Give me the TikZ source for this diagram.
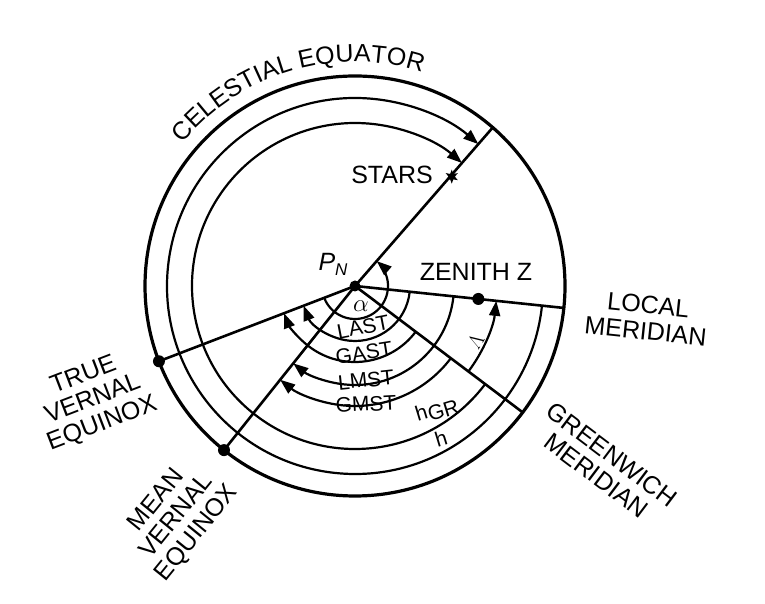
\documentclass[tikz,border=0pt]{standalone}
\usepackage{fontspec}
\setmainfont{Liberation Sans}
\usetikzlibrary{calc,arrows.meta,decorations.text,shapes.geometric}
\begin{document}
\begin{tikzpicture}[x=1pt,y=1pt,
  ln/.style={line width=2.6pt},
  arc/.style={line width=2.2pt,-{Triangle[length=15pt,width=11pt]}},
  dot/.style={circle,fill=black,inner sep=0pt,minimum size=12pt},
  big/.style={font=\fontsize{25}{26}\selectfont,align=center,inner sep=0pt},
  small/.style={font=\fontsize{21}{21}\selectfont,inner sep=0pt}]
\useasboundingbox (0,0) rectangle (765,604);
\coordinate (C) at (355,318);
\def\R{210}
\draw[line width=3.2pt] (C) circle[radius=\R];
\coordinate (S) at ($(C)+(49:\R)$);
\coordinate (L) at ($(C)+(-6:\R)$);
\coordinate (G) at ($(C)+(-37:\R)$);
\node[dot] (T) at ($(C)+(201:\R)$) {};
\node[dot] (M) at ($(C)+(231.4:\R)$) {};
\node[dot] (Z) at ($(C)+(-6:124)$) {};
\node[dot,minimum size=11pt] (P) at (C) {};
\draw[ln] (P.center) -- (S);
\draw[ln] (P.center) -- (L);
\draw[ln] (P.center) -- (G);
\draw[ln] (P.center) -- (T.center);
\draw[ln] (P.center) -- (M.center);
\node[star,star points=6,star point ratio=2.2,fill=black,inner sep=0pt,minimum size=14pt] (st) at ($(C)+(48.5:146)$) {};
\draw[arc] ($(C)+(-6:188)$) arc[start angle=-6,end angle=-311,radius=188];
\draw[arc] ($(C)+(-37:163)$) arc[start angle=-37,end angle=-311,radius=163];
\draw[arc] ($(C)+(-37:142)$) arc[start angle=-37,end angle=-6,radius=142];
\draw[arc] ($(C)+(-37:120)$) arc[start angle=-37,end angle=-128.6,radius=120];
\draw[arc] ($(C)+(-6:99)$) arc[start angle=-6,end angle=-128.6,radius=99];
\draw[arc] ($(C)+(-37:76)$) arc[start angle=-37,end angle=-159,radius=76];
\draw[arc] ($(C)+(-6:55)$) arc[start angle=-6,end angle=-159,radius=55];
\draw[arc] ($(C)+(-159:33)$) arc[start angle=-159,end angle=49,radius=33];
\path[decorate,decoration={text along path,text align=center,
  text={|\fontsize{25}{25}\selectfont|CELESTIAL EQUATOR}}]
  ($(C)+(150:224)$) arc[start angle=150,end angle=63,radius=224];
\node[big,anchor=east] (stars) at (433,429) {STARS};
\node[big] (pn) at (333,340) {\textit{P}\raisebox{-5pt}{\fontsize{17}{17}\selectfont\textit{N}}};
\node[big] (zen) at (476,332) {ZENITH Z};
\node[big] (loc) at (647,286) [rotate=-6] {LOCAL\\MERIDIAN};
\node[big] (gre) at (604,139) [rotate=-37] {GREENWICH\\MERIDIAN};
\node[big] (tve) at (93,204) [rotate=21] {TRUE\\VERNAL\\EQUINOX};
\node[big] (mve) at (177,87) [rotate=51] {MEAN\\VERNAL\\EQUINOX};
\node[small,font=\fontsize{24}{24}\selectfont] (al) at (361,298) {$\alpha$};
\node[small,rotate=11] (last) at (363,277) {LAST};
\node[small,rotate=9] (gast) at (364,251) {GAST};
\node[small,rotate=6] (lmst) at (366,224) {LMST};
\node[small,rotate=3] (gmst) at (366,200) {GMST};
\node[small,rotate=17] (hgr) at (437,194) {h\raisebox{-4pt}{GR}};
\node[small,rotate=17] (hh) at (441,165) {h};
\node[small,rotate=58,font=\fontsize{22}{22}\selectfont] (lam) at (476,263) {$\Lambda$};
\end{tikzpicture}
\end{document}
